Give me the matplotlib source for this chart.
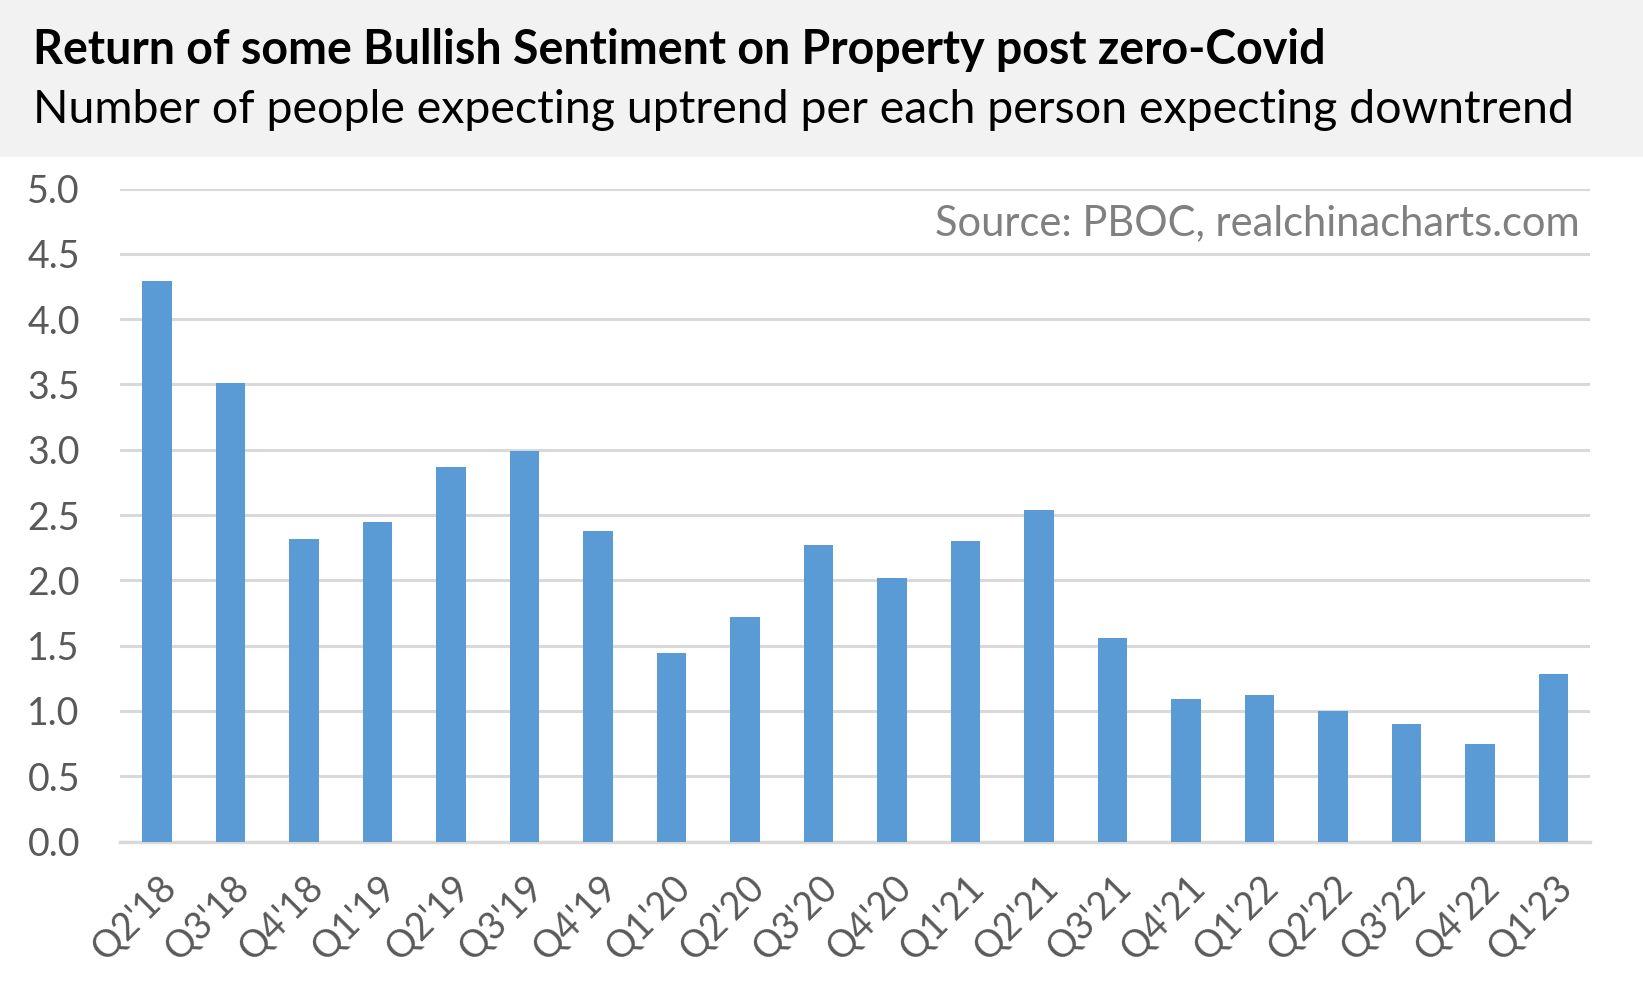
import matplotlib
matplotlib.use("Agg")
import matplotlib.pyplot as plt
from matplotlib.patches import Rectangle

categories = ["Q2'18", "Q3'18", "Q4'18", "Q1'19", "Q2'19", "Q3'19", "Q4'19",
              "Q1'20", "Q2'20", "Q3'20", "Q4'20", "Q1'21", "Q2'21", "Q3'21",
              "Q4'21", "Q1'22", "Q2'22", "Q3'22", "Q4'22", "Q1'23"]
values = [4.29, 3.51, 2.32, 2.45, 2.87, 2.99, 2.38, 1.44, 1.72, 2.27,
          2.02, 2.30, 2.54, 1.56, 1.09, 1.12, 1.00, 0.90, 0.75, 1.28]
yticks = [0.0, 0.5, 1.0, 1.5, 2.0, 2.5, 3.0, 3.5, 4.0, 4.5, 5.0]

title = "Return of some Bullish Sentiment on Property post zero-Covid"
subtitle = "Number of people expecting uptrend per each person expecting downtrend"
source = "Source: PBOC, realchinacharts.com"

FONT = ["Lato", "DejaVu Sans"]
plt.rcParams['font.family'] = FONT

fig = plt.figure(figsize=(16.43, 9.90), dpi=100)
fig.patch.set_facecolor("white")
fig.add_artist(Rectangle((0, 0.841), 1, 0.159, transform=fig.transFigure,
                         facecolor="#f2f2f2", edgecolor="none", zorder=0))
fig.text(0.020, 0.950, title, fontsize=33.5, fontweight="bold", color="black",
         va="center", ha="left")
fig.text(0.020, 0.889, subtitle, fontsize=33.5, color="black",
         va="center", ha="left")

ax = fig.add_axes([0.0733, 0.150, 0.8947, 0.6595])
x = list(range(len(categories)))
ax.bar(x, values, width=0.4, color="#5b9bd5", zorder=3)
ax.set_xlim(-0.5, len(categories) - 0.5)
ax.set_ylim(0, 5.0)
ax.set_yticks(yticks)
ax.set_yticklabels([f"{t:.1f}" for t in yticks])
ax.set_xticks(x)
ax.set_xticklabels(categories, rotation=45, ha="right", va="top",
                   rotation_mode="anchor")
ax.yaxis.grid(True, color="#d9d9d9", linewidth=2.2, zorder=0)
ax.set_axisbelow(True)
for s in ["top", "right", "left"]:
    ax.spines[s].set_visible(False)
ax.spines["bottom"].set_color("#d9d9d9")
ax.spines["bottom"].set_linewidth(2.5)
ax.tick_params(axis="both", length=0, labelsize=27, labelcolor="#595959")
ax.tick_params(axis="y", pad=67)
ax.tick_params(axis="x", pad=20)
for lbl in ax.get_yticklabels():
    lbl.set_horizontalalignment("left")
ax.text(0.993, 0.947, source, transform=ax.transAxes, fontsize=30,
        color="#808080", ha="right", va="center")

fig.savefig("out.png", dpi=100, facecolor="white")
